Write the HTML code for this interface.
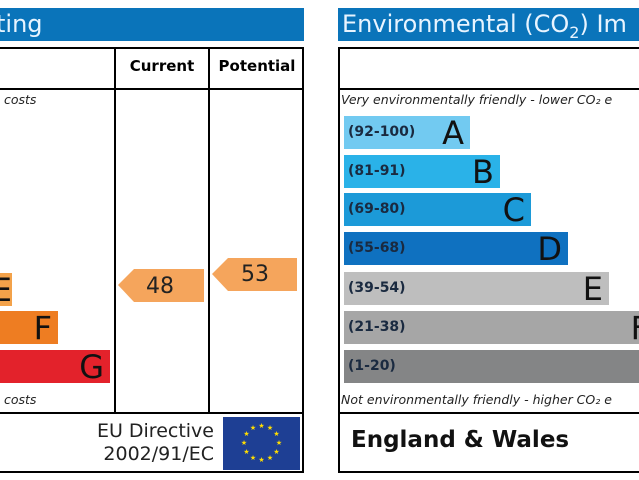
<!DOCTYPE html>
<html><head><style>
body{margin:0;width:639px;height:480px;background:#fff;position:relative;overflow:hidden;font-family:"DejaVu Sans","Liberation Sans",sans-serif}
div{position:absolute;box-sizing:border-box}
.t{background:#0a74ba;color:#e8f4ff;font-size:24px;line-height:33px;height:33px;top:8px;white-space:nowrap}
.b{height:33px;line-height:33px}
.r{font-size:14px;font-weight:bold;color:#1a2a40;padding-left:4px;line-height:33px}
.L{position:absolute;right:6px;top:0;font-size:32px;font-weight:normal;color:#111;line-height:34px}
.i{font-style:italic;font-size:12.5px;color:#222;white-space:nowrap}
</style></head><body>
<div class="t" style="left:0;width:304px"><span style="position:relative;left:-4px">ting</span></div>
<div style="left:-3px;top:47px;width:307px;height:426px;border:2px solid #000"></div>
<div style="left:0;top:88px;width:304px;height:2px;background:#000"></div>
<div style="left:0;top:412px;width:304px;height:2px;background:#000"></div>
<div style="left:114px;top:47px;width:2px;height:366px;background:#000"></div>
<div style="left:208px;top:47px;width:2px;height:366px;background:#000"></div>
<div style="left:116px;top:57px;width:92px;text-align:center;font-weight:bold;font-size:15px">Current</div>
<div style="left:210px;top:57px;width:94px;text-align:center;font-weight:bold;font-size:15px">Potential</div>
<div class="i" style="left:4px;top:92px">costs</div>
<div class="i" style="left:4px;top:392px">costs</div>
<div class="b" style="left:0;top:273px;width:12px;background:#f3a24a"><span class="L" style="right:0">E</span></div>
<div class="b" style="left:0;top:311px;width:58px;background:#ee7d22"><span class="L">F</span></div>
<div class="b" style="left:0;top:350px;width:110px;background:#e3222b"><span class="L">G</span></div>
<svg style="position:absolute;left:118px;top:269px" width="87" height="34"><polygon points="0,16 16,0 86,0 86,33 16,33" fill="#f5a55c"/><text x="28" y="24" font-size="22" font-family="DejaVu Sans" fill="#222">48</text></svg>
<svg style="position:absolute;left:212px;top:258px" width="86" height="34"><polygon points="0,16 16,0 85,0 85,33 16,33" fill="#f5a55c"/><text x="29" y="23" font-size="22" font-family="DejaVu Sans" fill="#222">53</text></svg>
<div style="left:70px;top:420px;width:144px;text-align:right;font-size:19px;line-height:23px;color:#222">EU Directive<br>2002/91/EC</div>
<svg style="position:absolute;left:223px;top:417px" width="77" height="53"><rect width="77" height="53" fill="#1e3f94"/><g fill="#ffdd00" font-size="7" text-anchor="middle">
<text x="38.5" y="11">★</text><text x="47" y="13">★</text><text x="53.5" y="19">★</text><text x="56" y="28">★</text><text x="53.5" y="37">★</text><text x="47" y="43">★</text><text x="38.5" y="45">★</text><text x="30" y="43">★</text><text x="23.5" y="37">★</text><text x="21" y="28">★</text><text x="23.5" y="19">★</text><text x="30" y="13">★</text></g></svg>
<div class="t" style="left:338px;width:310px;padding-left:4px">Environmental (CO<sub style="font-size:16px">2</sub>) Im</div>
<div style="left:338px;top:47px;width:310px;height:426px;border:2px solid #000"></div>
<div style="left:338px;top:88px;width:310px;height:2px;background:#000"></div>
<div style="left:338px;top:412px;width:310px;height:2px;background:#000"></div>
<div class="i" style="left:341px;top:92px">Very environmentally friendly - lower CO₂ e</div>
<div class="b r" style="left:344px;top:116px;width:126px;background:#72caf1">(92-100)<span class="L">A</span></div>
<div class="b r" style="left:344px;top:155px;width:156px;background:#2ab2e8">(81-91)<span class="L">B</span></div>
<div class="b r" style="left:344px;top:193px;width:187px;background:#1c9ad8">(69-80)<span class="L">C</span></div>
<div class="b r" style="left:344px;top:232px;width:224px;background:#0f71c0">(55-68)<span class="L">D</span></div>
<div class="b r" style="left:344px;top:272px;width:265px;background:#bebebe">(39-54)<span class="L">E</span></div>
<div class="b r" style="left:344px;top:311px;width:305px;background:#a6a6a6">(21-38)<span class="L" style="right:0">F</span></div>
<div class="b r" style="left:344px;top:350px;width:300px;background:#848586">(1-20)</div>
<div class="i" style="left:341px;top:392px">Not environmentally friendly - higher CO₂ e</div>
<div style="left:351px;top:427px;font-size:23px;font-weight:bold;color:#111;white-space:nowrap">England &amp; Wales</div>
</body></html>
